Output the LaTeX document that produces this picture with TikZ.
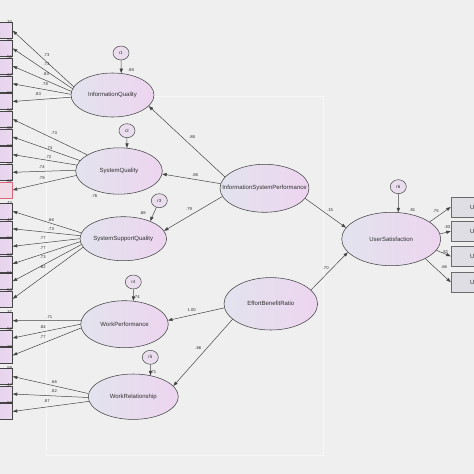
\documentclass[tikz,border=0pt]{standalone}
\usepackage{fontspec}
\setmainfont{Liberation Sans}
\usetikzlibrary{shapes.geometric,arrows.meta}
\definecolor{bg}{HTML}{EFEFEF}
\definecolor{frame}{HTML}{F8F8F8}
\definecolor{edge}{HTML}{454545}
\definecolor{txt}{HTML}{303030}
\definecolor{latL}{HTML}{E2E3EE}
\definecolor{latR}{HTML}{EDD5EF}
\definecolor{boxL}{HTML}{DCCBE6}
\definecolor{boxR}{HTML}{EAD9EF}
\definecolor{pinkfill}{HTML}{F2D9E6}
\definecolor{pinkedge}{HTML}{D9667A}
\definecolor{grayfill}{HTML}{DEDEE4}
\definecolor{errfill}{HTML}{E9DDEE}
\tikzset{
  lat/.style={ellipse, draw=edge, line width=0.55pt, left color=latL, right color=latR,
    inner sep=0pt, text=txt, font=\fontsize{6}{7}\selectfont},
  errc/.style={ellipse, draw=edge, line width=0.5pt, fill=errfill, inner sep=0pt,
    minimum width=16pt, minimum height=14pt, text=txt, font=\fontsize{4.5}{5}\selectfont},
  ind/.style={rectangle, draw=edge, line width=0.5pt, left color=boxL, right color=boxR,
    minimum width=34pt, minimum height=16pt, inner sep=0pt},
  indpink/.style={ind, draw=pinkedge, left color=pinkfill, right color=pinkfill},
  outb/.style={rectangle, draw=edge!80, line width=0.5pt, fill=grayfill,
    minimum width=50pt, minimum height=20.5pt, inner sep=0pt, text=txt, font=\fontsize{6}{7}\selectfont},
  arr/.style={draw=edge, line width=0.5pt, -{Triangle[length=4.5pt,width=3.2pt]}},
  lab/.style={inner sep=0pt, text=txt, font=\fontsize{4.2}{5}\selectfont},
}
\begin{document}
\begin{tikzpicture}[x=1pt,y=-1pt]
\useasboundingbox (0,0) rectangle (474,474);
\clip (0,0) rectangle (474,474);
\fill[bg] (0,0) rectangle (474,474);
\draw[frame, line width=0.8pt] (46,96.7) rectangle (323.3,455);

% latent variables
\node[lat, minimum width=83pt, minimum height=44pt] (IQ) at (112.5,95) {\makebox[0pt]{InformationQuality}};
\node[lat, minimum width=86.6pt, minimum height=46.4pt] (SQ) at (119,171) {\makebox[0pt]{SystemQuality}};
\node[lat, minimum width=86.6pt, minimum height=44pt] (SSQ) at (123.3,238.7) {\makebox[0pt]{SystemSupportQuality}};
\node[lat, minimum width=87.6pt, minimum height=47pt] (WP) at (124.5,324.2) {\makebox[0pt]{WorkPerformance}};
\node[lat, minimum width=90pt, minimum height=45.4pt] (WR) at (133.3,396.7) {\makebox[0pt]{WorkRelationship}};
\node[lat, minimum width=89pt, minimum height=48pt] (ISP) at (264.5,188.3) {\makebox[0pt]{InformationSystemPerformance}};
\node[lat, minimum width=93.6pt, minimum height=52.4pt] (EBR) at (270.8,303.8) {\makebox[0pt]{EffortBenefitRatio}};
\node[lat, minimum width=99pt, minimum height=53.4pt] (US) at (391.2,239) {\makebox[0pt]{UserSatisfaction}};

% error terms
\node[errc] (r1) at (121,53) {r1};
\node[errc] (r2) at (127,130.7) {r2};
\node[errc] (r3) at (159.3,200.7) {r3};
\node[errc] (r4) at (133.3,282) {r4};
\node[errc] (r5) at (150.3,357.3) {r5};
\node[errc] (r6) at (398.3,186.7) {r6};

\draw[arr] (r1) -- (IQ.68);
\draw[arr] (r2) -- (SQ.71);
\draw[arr] (r3) -- (SSQ.33);
\draw[arr] (r4) -- (WP.69);
\draw[arr] (r5) -- (WR.51);
\draw[arr] (r6) -- (US.75);

% left indicators
\foreach \n/\y in {1/30.7,2/48.4,3/66.1,4/83.8,5/101.5,
  6/119.2,7/136.9,8/154.6,9/172.3,
  11/211.3,12/228.8,13/246.3,14/263.8,15/281.3,16/298.8,
  17/320.7,18/338,19/355.3,
  20/376.5,21/394,22/411.5}
  \node[ind] (b\n) at (-4.5,\y) {};
\node[indpink] (b10) at (-4.5,190) {};

% squared multiple correlations of indicators
\foreach \n/\s in {1/.34,2/.55,3/.56,4/.67,5/.58,6/.53,7/.55,8/.53,9/.54,10/.62,
  11/.43,12/.47,13/.54,14/.59,15/.51,16/.53,17/.37,18/.52,19/.38,20/.59,21/.47,22/.53}
  \node[lab, anchor=south east] (s\n) at ([xshift=-0.6pt,yshift=-1.2pt]b\n.north east) {\s};

% loadings to left indicators
\foreach \n/\a in {1/168,2/171,3/175,4/179,5/183}
  \draw[arr] (IQ.\a) -- (b\n.east);
\foreach \n/\a in {6/153,7/165,8/172,9/179,10/186}
  \draw[arr] (SQ.\a) -- (b\n.east);
\foreach \n/\a in {11/172,12/176,13/180,14/184,15/188,16/192}
  \draw[arr] (SSQ.\a) -- (b\n.east);
\foreach \n/\a in {17/175,18/180,19/185}
  \draw[arr] (WP.\a) -- (b\n.east);
\foreach \n/\a in {20/176,21/181,22/186}
  \draw[arr] (WR.\a) -- (b\n.east);

\node[lab] (c1) at (46.5,55) {.73};
\node[lab] (c2) at (46.5,64.5) {.73};
\node[lab] (c3) at (46,74) {.83};
\node[lab] (c4) at (45,84) {.78};
\node[lab] (c5) at (38,94.5) {.83};
\node[lab] (c6) at (54,133.3) {.73};
\node[lab] (c7) at (49.3,148.3) {.74};
\node[lab] (c8) at (48.3,157.3) {.72};
\node[lab] (c9) at (41.7,167.3) {.74};
\node[lab] (c10) at (41.7,178.3) {.79};
\node[lab] (c11) at (51,220) {.66};
\node[lab] (c12) at (51,229) {.73};
\node[lab] (c13) at (42.7,238.3) {.77};
\node[lab] (c14) at (42.7,247.7) {.77};
\node[lab] (c15) at (42.7,257.3) {.73};
\node[lab] (c16) at (42.7,267.3) {.62};
\node[lab] (c17) at (49.3,317.3) {.71};
\node[lab] (c18) at (42.7,327.3) {.84};
\node[lab] (c19) at (42.7,336.7) {.77};
\node[lab] (c20) at (54,381.7) {.66};
\node[lab] (c21) at (54,391) {.82};
\node[lab] (c22) at (46.7,400.7) {.87};

% R squared of latents
\node[lab] (R1) at (131,70) {.88};
\node[lab] (R2) at (94.3,196) {.76};
\node[lab] (R3) at (142.7,213.3) {.88};
\node[lab] (R4) at (136.7,296.7) {.74};
\node[lab] (R5) at (153.3,372) {.71};
\node[lab] (R6) at (412.3,210) {.81};

% structural paths
\draw[arr] (ISP.164) -- (IQ.-17);
\draw[arr] (ISP.174) -- (SQ.-4);
\draw[arr] (ISP.191) -- (SSQ.11);
\draw[arr] (ISP.-14) -- (US.166);
\draw[arr] (EBR.19) -- (US.197);
\draw[arr] (EBR.185) -- (WP.5);
\draw[arr] (EBR.202) -- (WR.15);
\node[lab] (p1) at (192,137.3) {.88};
\node[lab] (p2) at (195,175) {.88};
\node[lab] (p3) at (189,209) {.79};
\node[lab] (p4) at (330,210) {.15};
\node[lab] (p5) at (325.7,268.3) {.70};
\node[lab] (p6) at (191.7,310) {1.00};
\node[lab] (p7) at (198.3,348.3) {.66};

% right indicators
\node[outb] (u1) at (476,207) {US1};
\node[outb] (u2) at (476,231.2) {US2};
\node[outb] (u3) at (476,256.3) {US3};
\node[outb] (u4) at (476,282.2) {US4};
\draw[arr] (US.24) -- (u1.west);
\draw[arr] (US.6) -- (u2.west);
\draw[arr] (US.-14) -- (u3.west);
\draw[arr] (US.-30) -- (u4.west);
\node[lab] (q1) at (435.7,210.7) {.75};
\node[lab] (q2) at (447.3,226.7) {.83};
\node[lab] (q3) at (445,251.7) {.82};
\node[lab] (q4) at (444,266.7) {.66};
\end{tikzpicture}
\end{document}
